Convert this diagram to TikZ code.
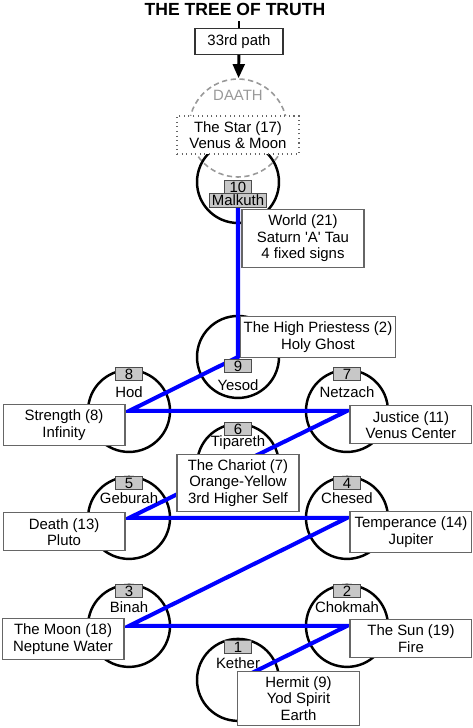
\documentclass[tikz,border=0pt]{standalone}
\usepackage{fontspec}
\setmainfont{Liberation Sans}
\usetikzlibrary{arrows.meta, shapes.geometric, positioning}

\begin{document}
\begin{tikzpicture}[x=0.02cm, y=-0.02cm, node distance=1.5cm, on grid, font=\fontsize{8.5}{9.4}\selectfont,
    sephira/.style={circle, draw, line width=1.4pt, minimum size=1.64cm, inner sep=0pt},
    numbox/.style={rectangle, draw=black!70, fill=black!22, line width=0.5pt, minimum width=0.54cm, minimum height=0.27cm, inner sep=0pt},
    card/.style={rectangle, draw=black!60, fill=white, line width=0.6pt, align=center, minimum width=2.44cm, inner xsep=2pt, inner ysep=3pt},
    thickline/.style={line width=1.7pt},
    trail/.style={draw=blue, line width=2.3pt}]

            \useasboundingbox (0,0) rectangle (473,728);

            \node[font=\bfseries\fontsize{10}{12}\selectfont] (title) at (235,9) {THE TREE OF TRUTH};
            \node[rectangle, draw=black!80, line width=0.6pt, minimum width=1.76cm, minimum height=0.46cm] (pathbox) at (239,41.5) {33rd path};

            \node[circle, draw=black!40, dashed, dash pattern=on 3pt off 2pt, line width=0.9pt, minimum size=1.96cm] (daath) at (238,128) {};
            \node[sephira, below=1.08cm of daath] (malkuth) {};
            \node[sephira, below=3.5cm of malkuth] (yesod) {};
            \node[sephira, below left=1.08cm and 2.18cm of yesod] (hod) {};
            \node[sephira, below right=1.08cm and 2.18cm of yesod] (netzach) {};
            \node[sephira, below=2.16cm of yesod] (tiphareth) {};
            \node[sephira, below=2.14cm of hod] (geburah) {};
            \node[sephira, below=2.14cm of netzach] (chesed) {};
            \node[sephira, below=2.16cm of geburah] (binah) {};
            \node[sephira, below=2.16cm of chesed] (chokmah) {};
            \node[sephira, below right=1.08cm and 2.18cm of binah] (kether) {};

            % the path of the lightning
            \draw[trail] (malkuth.center) -- (yesod.center) -- (hod.center) -- (netzach.center) -- (geburah.center)
                -- (chesed.center) -- (binah.center) -- (chokmah.center) -- (kether.center);

            \draw[thickline] (pathbox.north) -- (pathbox.north |- title.south);
            \draw[thickline, -{Triangle[width=6.6pt, length=8pt]}] (pathbox) -- (daath);

            \node[text=black!40, above=0.66cm of daath] (ldaath) {DAATH};
            \node[numbox, below=0.1cm of malkuth] (n10) {10};
            \node[numbox, minimum width=1.14cm, minimum height=0.28cm, below=0.36cm of malkuth] (lmalkuth) {Malkuth};
            \node[numbox, below=0.18cm of yesod] (n9) {9};
            \node[below=0.56cm of yesod] (lyesod) {Yesod};
            \node[numbox, above=0.74cm of hod] (n8) {8};
            \node[above=0.38cm of hod] (lhod) {Hod};
            \node[numbox, above=0.74cm of netzach] (n7) {7};
            \node[above=0.38cm of netzach] (lnetzach) {Netzach};
            \node[numbox, above=0.72cm of tiphareth] (n6) {6};
            \node[above=0.44cm of tiphareth] (ltiphareth) {Tipareth};
            \node[numbox, above=0.7cm of geburah] (n5) {5};
            \node[above=0.4cm of geburah] (lgeburah) {Geburah};
            \node[numbox, above=0.7cm of chesed] (n4) {4};
            \node[above=0.4cm of chesed] (lchesed) {Chesed};
            \node[numbox, above=0.7cm of binah] (n3) {3};
            \node[above=0.38cm of binah] (lbinah) {Binah};
            \node[numbox, above=0.7cm of chokmah] (n2) {2};
            \node[above=0.38cm of chokmah] (lchokmah) {Chokmah};
            \node[numbox, above=0.66cm of kether] (n1) {1};
            \node[above=0.34cm of kether] (lkether) {Kether};

            \node[card, dotted, below=0.14cm of daath] (star) {The Star (17)\\Venus \& Moon};
            \node[card, below right=1.13cm and 1.3cm of malkuth] (world) {World (21)\\Saturn \textquotesingle A\textquotesingle\ Tau\\4 fixed signs};
            \node[card, above right=0.4cm and 1.6cm of yesod] (priestess) {The High Priestess (2)\\Holy Ghost};
            \node[card, below left=0.28cm and 1.3cm of hod] (strength) {Strength (8)\\Infinity};
            \node[card, below right=0.28cm and 1.28cm of netzach] (justice) {Justice (11)\\Venus Center};
            \node[card, below=0.36cm of tiphareth] (chariot) {The Chariot (7)\\Orange-Yellow\\3rd Higher Self};
            \node[card, below left=0.28cm and 1.3cm of geburah] (death) {Death (13)\\Pluto};
            \node[card, below right=0.28cm and 1.28cm of chesed] (temperance) {Temperance (14)\\Jupiter};
            \node[card, below left=0.26cm and 1.32cm of binah] (moon) {The Moon (18)\\Neptune Water};
            \node[card, below right=0.26cm and 1.28cm of chokmah] (sun) {The Sun (19)\\Fire};
            \node[card, below right=0.37cm and 1.21cm of kether] (hermit) {Hermit (9)\\Yod Spirit\\Earth};

        \end{tikzpicture}
\end{document}
